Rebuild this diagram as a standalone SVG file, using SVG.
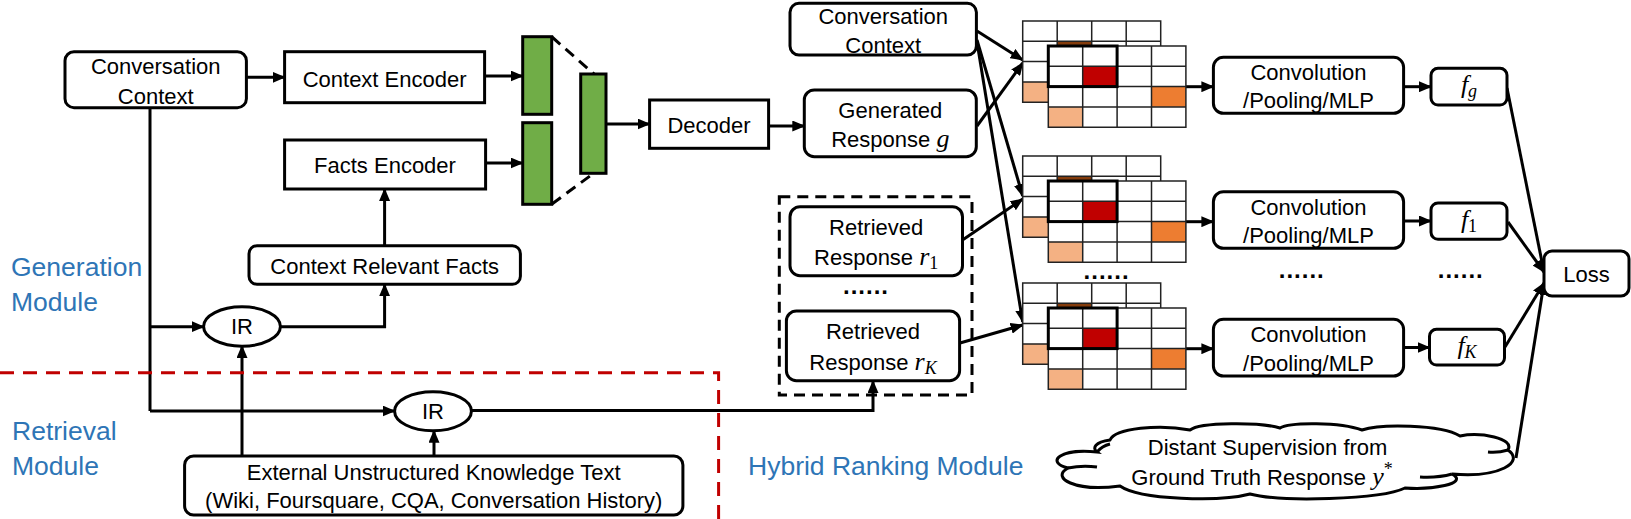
<svg xmlns="http://www.w3.org/2000/svg" xmlns:xlink="http://www.w3.org/1999/xlink" width="1631" height="519" viewBox="0 0 1631 519">
<style>
.box{fill:#fff;stroke:#000;stroke-width:3}
.bar{fill:#70AD47;stroke:#000;stroke-width:3}
.t{font-family:"Liberation Sans",Arial,sans-serif;font-size:22px;text-anchor:middle;fill:#000}
.m{font-family:"Liberation Serif","Times New Roman",serif;font-style:italic;font-size:26px}
.sub{font-family:"Liberation Serif","Times New Roman",serif;font-size:18px}
.mod{font-family:"Liberation Sans",Arial,sans-serif;font-size:26.5px;fill:#2E75B6}
.ln{stroke:#000;stroke-width:3;fill:none}
.arr{stroke:#000;stroke-width:3;fill:none;marker-end:url(#ah)}
.dash{stroke:#000;stroke-width:3;fill:none;stroke-dasharray:11 7}
.dots{font-family:"Liberation Sans",Arial,sans-serif;font-size:24px;font-weight:bold;text-anchor:middle;letter-spacing:1px}
.g{stroke:#222;stroke-width:1.5;fill:none}
</style>
<defs>
<marker id="ah" markerUnits="userSpaceOnUse" markerWidth="13" markerHeight="11" refX="12" refY="5.5" orient="auto">
<path d="M0,0 L13,5.5 L0,11 z" fill="#000"/>
</marker>
<g id="mat">
<rect x="0" y="0" width="138" height="81.2" fill="#fff"/>
<rect x="0" y="60.9" width="34.5" height="20.3" fill="#F4B183"/>
<rect x="34.5" y="20.3" width="34.5" height="20.3" fill="#843C0C"/>
<path class="g" d="M0,0H138V81.2H0Z M34.5,0V81.2 M69,0V81.2 M103.5,0V81.2 M0,20.3H138 M0,40.6H138 M0,60.9H138"/>
<rect x="25.6" y="25" width="137.6" height="81.2" fill="#fff"/>
<rect x="60" y="45.3" width="34.4" height="20.3" fill="#C00000"/>
<rect x="128.8" y="65.6" width="34.4" height="20.3" fill="#ED7D31"/>
<rect x="25.6" y="85.9" width="34.4" height="20.3" fill="#F4B183"/>
<path class="g" d="M25.6,25H163.2V106.2H25.6Z M60,25V106.2 M94.4,25V106.2 M128.8,25V106.2 M25.6,45.3H163.2 M25.6,65.6H163.2 M25.6,85.9H163.2"/>
<rect x="25.6" y="25" width="68.8" height="40.6" fill="none" stroke="#000" stroke-width="3"/>
</g>
</defs>
<rect width="1631" height="519" fill="#fff"/>

<g id="labels">
<text class="mod" x="11" y="276">Generation</text>
<text class="mod" x="11" y="311">Module</text>
<text class="mod" x="12" y="440">Retrieval</text>
<text class="mod" x="12" y="475">Module</text>
<text class="mod" x="748" y="475">Hybrid Ranking Module</text>
</g>

<g id="connectors">
<line class="arr" x1="246.4" y1="77.3" x2="284.6" y2="77.3"/>
<line class="arr" x1="484.6" y1="76" x2="522.7" y2="76"/>
<line class="arr" x1="485.7" y1="163" x2="522.7" y2="163"/>
<line class="arr" x1="384.6" y1="245.7" x2="384.6" y2="189"/>
<line class="dash" x1="552" y1="37" x2="594" y2="74"/>
<line class="dash" x1="552" y1="204" x2="594" y2="173"/>
<line class="arr" x1="606" y1="124" x2="649.6" y2="124"/>
<line class="arr" x1="768.6" y1="126" x2="804.3" y2="126"/>
<path class="ln" d="M150,107.7 V411"/>
<line class="arr" x1="150" y1="326.7" x2="203.6" y2="326.7"/>
<path class="arr" d="M280.4,326.7 H384.6 V284.3"/>
<line class="arr" x1="150" y1="411" x2="394.6" y2="411"/>
<line class="arr" x1="242" y1="456" x2="242" y2="346"/>
<line class="arr" x1="434" y1="456" x2="434" y2="430.7"/>
<path class="arr" d="M471.4,410.5 H873 V381"/>
<line class="arr" x1="977" y1="31" x2="1022.7" y2="60"/>
<line class="arr" x1="977" y1="40" x2="1022.7" y2="196"/>
<line class="arr" x1="977" y1="42" x2="1022.7" y2="322"/>
<line class="arr" x1="977" y1="126" x2="1022.7" y2="63"/>
<line class="arr" x1="962.5" y1="240" x2="1022.7" y2="199"/>
<line class="arr" x1="960" y1="343" x2="1022.7" y2="325"/>
<line class="arr" x1="1186" y1="86.7" x2="1213.4" y2="86.7"/>
<line class="arr" x1="1186" y1="221.7" x2="1213.4" y2="221.7"/>
<line class="arr" x1="1186" y1="348.7" x2="1213.4" y2="348.7"/>
<line class="arr" x1="1403.6" y1="86.7" x2="1431" y2="86.7"/>
<line class="arr" x1="1403.6" y1="221" x2="1431" y2="221"/>
<line class="arr" x1="1403.6" y1="347.5" x2="1429.5" y2="347.5"/>
<line class="arr" x1="1507" y1="88" x2="1544" y2="272"/>
<line class="arr" x1="1508" y1="222" x2="1544" y2="272"/>
<line class="arr" x1="1505" y1="347" x2="1544" y2="283"/>
<line class="arr" x1="1516" y1="458" x2="1544" y2="283"/>
<path d="M0,372.7 H718.6 V519" fill="none" stroke="#C00000" stroke-width="3" stroke-dasharray="14 9"/>
</g>

<g id="conv-context-left">
<rect class="box" x="65" y="51.7" width="181.4" height="56" rx="9"/>
<text class="t" x="155.7" y="74">Conversation</text>
<text class="t" x="155.7" y="104">Context</text>
</g>
<g id="context-encoder">
<rect class="box" x="284.6" y="51.7" width="200" height="51"/>
<text class="t" x="384.6" y="87.3">Context Encoder</text>
</g>
<g id="facts-encoder">
<rect class="box" x="284.6" y="140" width="201" height="49"/>
<text class="t" x="385" y="173.3">Facts Encoder</text>
</g>
<g id="context-relevant-facts">
<rect class="box" x="249" y="245.7" width="271.4" height="38.6" rx="8"/>
<text class="t" x="384.7" y="274.3">Context Relevant Facts</text>
</g>
<g id="ir-1">
<ellipse class="box" cx="242" cy="326.5" rx="38.4" ry="19.7"/>
<text class="t" x="242" y="334.3">IR</text>
</g>
<g id="ir-2">
<ellipse class="box" cx="433" cy="411.2" rx="38.4" ry="19.5"/>
<text class="t" x="433" y="419">IR</text>
</g>
<g id="external-knowledge">
<rect class="box" x="184.6" y="456" width="498.3" height="59" rx="9"/>
<text class="t" x="433.7" y="480">External Unstructured Knowledge Text</text>
<text class="t" x="433.7" y="508">(Wiki, Foursquare, CQA, Conversation History)</text>
</g>
<g id="encoder-states">
<rect class="bar" x="522.7" y="36.7" width="29" height="77.6"/>
<rect class="bar" x="522.7" y="122.7" width="29" height="81.6"/>
<rect class="bar" x="580.7" y="74" width="25.3" height="99.3"/>
</g>
<g id="decoder">
<rect class="box" x="649.6" y="100" width="119" height="48.3"/>
<text class="t" x="709" y="133.3">Decoder</text>
</g>
<g id="conv-context-right">
<rect class="box" x="790" y="3.3" width="186.4" height="51.7" rx="9"/>
<text class="t" x="883.2" y="24">Conversation</text>
<text class="t" x="883.2" y="53.3">Context</text>
</g>
<g id="generated-response">
<rect class="box" x="804.3" y="90" width="172" height="66.7" rx="10"/>
<text class="t" x="890.3" y="118.3">Generated</text>
<text class="t" x="890.3" y="146.7">Response <tspan class="m">g</tspan></text>
</g>
<g id="retrieved-group">
<rect class="dash" x="779.3" y="196.7" width="192.7" height="198.3"/>
</g>
<g id="retrieved-r1">
<rect class="box" x="790" y="206.7" width="172.5" height="69" rx="10"/>
<text class="t" x="876.2" y="235">Retrieved</text>
<text class="t" x="876.2" y="265">Response <tspan class="m">r</tspan><tspan class="sub" dy="4">1</tspan></text>
</g>
<text class="dots" x="866" y="294">......</text>
<g id="retrieved-rk">
<rect class="box" x="786.4" y="311" width="173.2" height="69.7" rx="10"/>
<text class="t" x="873" y="339.3">Retrieved</text>
<text class="t" x="873" y="370">Response <tspan class="m">r</tspan><tspan class="sub" font-style="italic" dy="4">K</tspan></text>
</g>

<g id="matrix-g"><use xlink:href="#mat" transform="translate(1022.7,21)"/></g>
<g id="matrix-1"><use xlink:href="#mat" transform="translate(1022.7,156)"/></g>
<g id="matrix-k"><use xlink:href="#mat" transform="translate(1022.7,283)"/></g>
<text class="dots" x="1106.6" y="279">......</text>

<g id="conv-g">
<rect class="box" x="1213.4" y="57.3" width="190.2" height="56" rx="10"/>
<text class="t" x="1308.5" y="80">Convolution</text>
<text class="t" x="1308.5" y="108.4">/Pooling/MLP</text>
</g>
<g id="conv-1">
<rect class="box" x="1213.4" y="191.7" width="190.2" height="56.6" rx="10"/>
<text class="t" x="1308.5" y="214.5">Convolution</text>
<text class="t" x="1308.5" y="243">/Pooling/MLP</text>
</g>
<text class="dots" x="1301.8" y="278">......</text>
<g id="conv-k">
<rect class="box" x="1213.4" y="319.3" width="190.2" height="56.7" rx="10"/>
<text class="t" x="1308.5" y="342">Convolution</text>
<text class="t" x="1308.5" y="370.5">/Pooling/MLP</text>
</g>

<g id="f-g">
<rect class="box" x="1431" y="68.3" width="76" height="36.7" rx="7"/>
<text class="t" x="1469" y="93"><tspan class="m">f</tspan><tspan class="sub" font-style="italic" dy="4">g</tspan></text>
</g>
<g id="f-1">
<rect class="box" x="1431" y="203" width="76" height="36.3" rx="7"/>
<text class="t" x="1469" y="227.5"><tspan class="m">f</tspan><tspan class="sub" dy="4">1</tspan></text>
</g>
<text class="dots" x="1460.8" y="278">......</text>
<g id="f-k">
<rect class="box" x="1429.5" y="329.3" width="75" height="35.7" rx="7"/>
<text class="t" x="1467" y="353.5"><tspan class="m">f</tspan><tspan class="sub" font-style="italic" dy="4">K</tspan></text>
</g>
<g id="loss">
<rect class="box" x="1544" y="251" width="85" height="45" rx="8"/>
<text class="t" x="1586.5" y="281.7">Loss</text>
</g>

<g id="distant-supervision">
<path class="box" d="M1097,452 C1060,448 1045,462 1068,468 C1050,478 1075,492 1120,486 C1140,500 1220,502 1250,494 C1280,502 1380,500 1405,488 C1430,490 1470,484 1452,474 C1500,478 1525,462 1508,450 C1515,438 1480,432 1460,436 C1440,424 1380,424 1362,430 C1340,422 1290,422 1280,428 C1260,422 1200,422 1190,430 C1160,424 1115,428 1110,440 C1095,442 1092,448 1097,452 Z"/>
<path class="ln" d="M1068,468 Q1082,465 1097,467 M1452,474 Q1438,478 1420,477 M1508,450 Q1498,453 1488,452 M1097,452 Q1102,446 1110,444"/>
<text class="t" x="1267.6" y="455">Distant Supervision from</text>
<text class="t" x="1262" y="485">Ground Truth Response <tspan class="m">y</tspan><tspan class="sub" dy="-10">*</tspan></text>
</g>
</svg>
